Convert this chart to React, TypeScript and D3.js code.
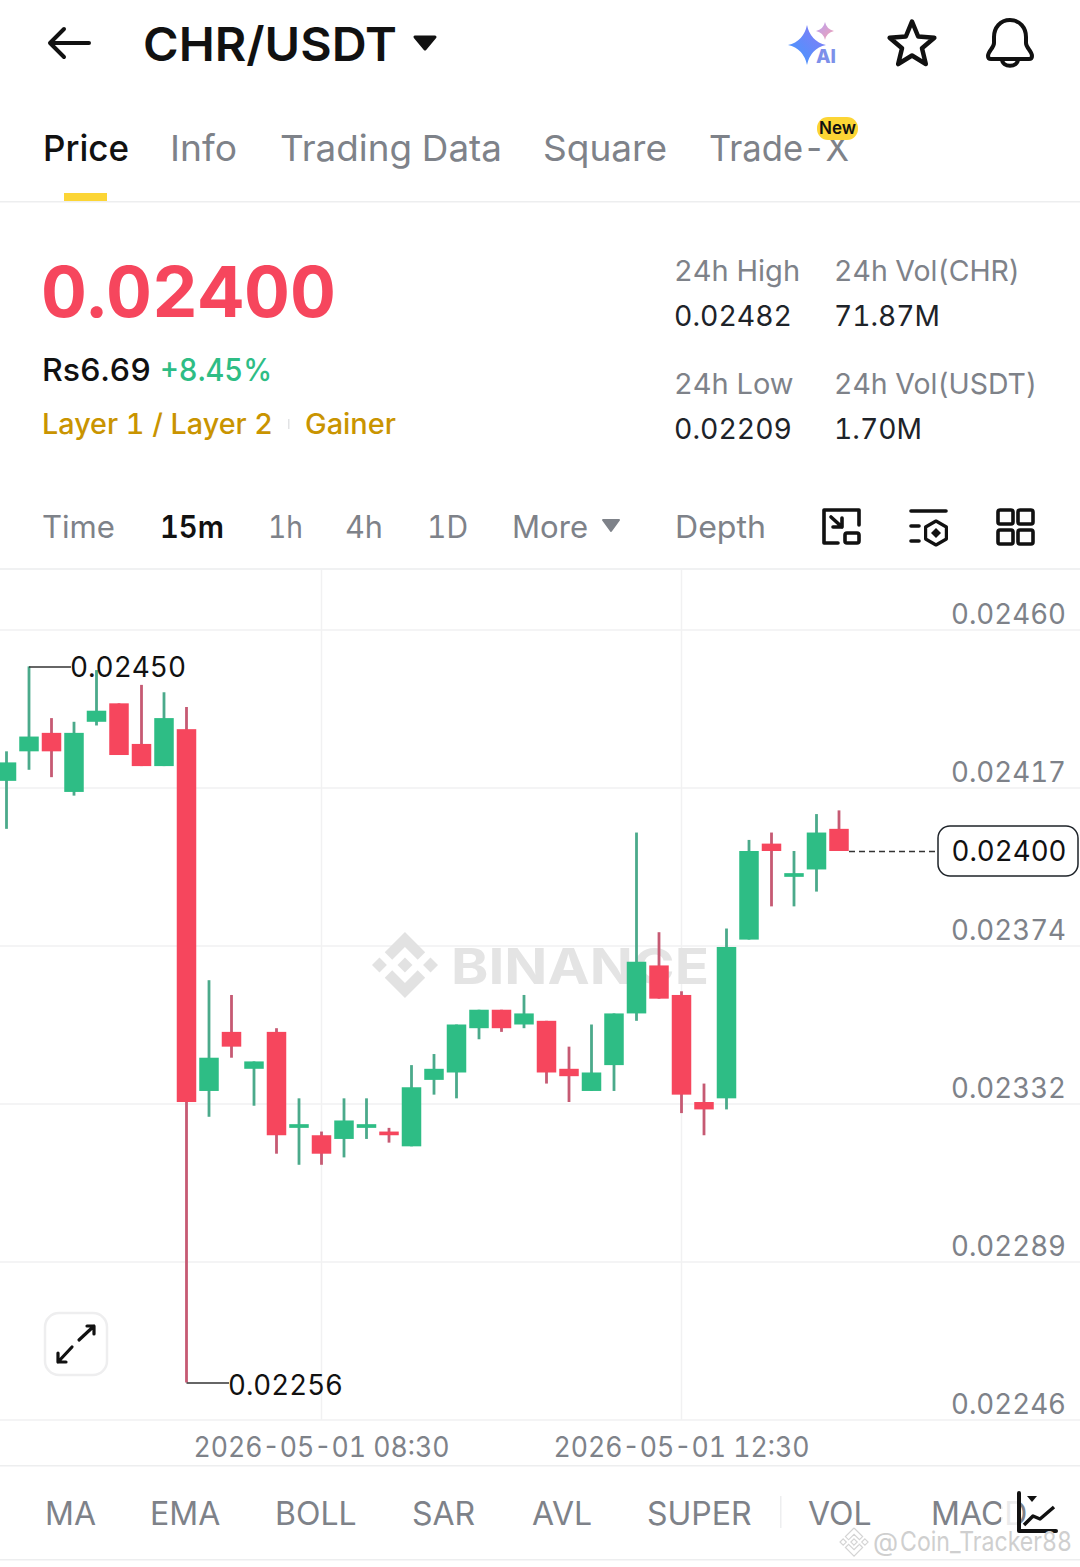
import React from 'react';
import * as d3 from 'd3';

const WIDTH = 1080;
const HEIGHT = 1567;
const FONT = 'Inter, "Noto Sans", sans-serif';

const UP = '#2EBD85';
const DOWN = '#F6465D';
const UP_WICK = '#4BAA8B';
const DOWN_WICK = '#C65A73';
const GRID = '#F1F1F2';
const GRAY = '#7E8289';
const DARK = '#1E2329';

const candleTimes = [
    '05:00', '05:15', '05:30', '05:45', '06:00', '06:15', '06:30', '06:45',
    '07:00', '07:15', '07:30', '07:45', '08:00', '08:15', '08:30', '08:45',
    '09:00', '09:15', '09:30', '09:45', '10:00', '10:15', '10:30', '10:45',
    '11:00', '11:15', '11:30', '11:45', '12:00', '12:15', '12:30', '12:45',
    '13:00', '13:15', '13:30', '13:45', '14:00', '14:15',
];
const opens = [
    0.02419, 0.02427, 0.02432, 0.02416, 0.02435, 0.0244, 0.02429, 0.02423,
    0.02433, 0.02335, 0.02351, 0.02341, 0.02351, 0.02325, 0.02323, 0.02322,
    0.02325, 0.02324, 0.0232, 0.02338, 0.0234, 0.02352, 0.02357, 0.02353,
    0.02354, 0.02341, 0.02335, 0.02342, 0.02356, 0.02369, 0.02361, 0.02332,
    0.02333, 0.02376, 0.02402, 0.02393, 0.02395, 0.02406,
];
const highs = [
    0.02427, 0.0245, 0.02436, 0.02435, 0.02449, 0.0244, 0.02445, 0.02443,
    0.02439, 0.02365, 0.02361, 0.02343, 0.02352, 0.02333, 0.02324, 0.02333,
    0.02333, 0.02325, 0.02342, 0.02345, 0.02353, 0.02357, 0.02357, 0.02361,
    0.02354, 0.02347, 0.02353, 0.02356, 0.02405, 0.02378, 0.02362, 0.02337,
    0.02379, 0.02403, 0.02405, 0.024, 0.0241, 0.02411,
];
const lows = [
    0.02406, 0.02422, 0.0242, 0.02415, 0.02434, 0.02426, 0.02423, 0.02423,
    0.02256, 0.02328, 0.02344, 0.02331, 0.02318, 0.02315, 0.02315, 0.02317,
    0.02322, 0.02321, 0.0232, 0.02334, 0.02333, 0.02349, 0.02351, 0.02352,
    0.02337, 0.02332, 0.02335, 0.02335, 0.02354, 0.0236, 0.02329, 0.02323,
    0.0233, 0.02376, 0.02385, 0.02385, 0.02389, 0.024,
];
const closes = [
    0.02424, 0.02431, 0.02427, 0.02432, 0.02438, 0.02426, 0.02423, 0.02436,
    0.02332, 0.02344, 0.02347, 0.02343, 0.02323, 0.02326, 0.02318, 0.02327,
    0.02326, 0.02323, 0.02336, 0.02341, 0.02353, 0.02357, 0.02352, 0.02356,
    0.0234, 0.02339, 0.0234, 0.02356, 0.0237, 0.0236, 0.02334, 0.0233,
    0.02374, 0.024, 0.024, 0.02394, 0.02405, 0.024,
];

// the axis is evenly spaced, the labels are these rounded to 5 places
const priceTicks = [0.0246, 0.024172, 0.023744, 0.023316, 0.022888, 0.02246];
const timeTicks = ['08:30', '12:30'];
const timeTickLabels = ['2026-05-01 08:30', '2026-05-01 12:30'];
const tabs = ['Price', 'Info', 'Trading Data', 'Square', 'Trade-X'];
const tabX = [43, 170, 280, 543, 709];
const tabLen = [86, 67, 222, 124, 140];
const intervals = ['Time', '15m', '1h', '4h', '1D', 'More', 'Depth'];
const intervalX = [42, 160, 268, 345, 427, 512, 675];
const intervalLen = [73, 64, 35, 38, 41, 76, 91];
const indicators = ['MA', 'EMA', 'BOLL', 'SAR', 'AVL', 'SUPER', 'VOL', 'MACD'];
const indicatorX = [45, 150, 275, 412, 532, 647, 808, 931];
const lastPrice = 0.024;

const BINANCE_LOGO = 'M16.624 13.9202l2.7175 2.7154-7.353 7.353-7.353-7.352 2.7175-2.7164 4.6355 4.6595 4.6356-4.6595zm4.6366-4.6366L24 12l-2.7154 2.7164L18.5682 12l2.6924-2.7164zm-9.272.001l2.7163 2.6914-2.7164 2.7174v-.001L9.2721 12l2.7164-2.7154zm-9.2722-.001L5.4088 12l-2.6914 2.6924L0 12l2.7164-2.7164zM11.9885.0115l7.353 7.329-2.7174 2.7154-4.6356-4.6356-4.6355 4.6595-2.7174-2.7154 7.353-7.353z';

const x = d3.scaleBand<string>()
    .domain(candleTimes)
    .range([-4.75, 850.25])
    .paddingInner(3 / 22.5)
    .paddingOuter(1.5 / 22.5);

const y = d3.scaleLinear().domain([0.0246, 0.02246]).range([630, 1420]);

const cx = (t: string) => (x(t) || 0) + x.bandwidth() / 2;

interface TxtProps {
    x: number;
    y: number;
    size: number;
    fill?: string;
    weight?: number;
    anchor?: string;
    length?: number;
    children: React.ReactNode;
}

const Txt: React.FC<TxtProps> = ({ x, y, size, fill = DARK, weight = 400, anchor = 'start', length, children }) => (
    <text
        x={x}
        y={y}
        fontSize={size}
        fill={fill}
        fontWeight={weight}
        textAnchor={anchor}
        fontFamily={FONT}
        textLength={length}
        lengthAdjust={length ? 'spacingAndGlyphs' : undefined}
        style={{ fontVariantNumeric: 'tabular-nums' }}
    >
        {children}
    </text>
);

const starPath = (cX: number, cY: number, outer: number, inner: number) => {
    const pts: [number, number][] = d3.range(10).map(i => {
        const r = i % 2 === 0 ? outer : inner;
        const a = (i * Math.PI) / 5;
        return [cX + r * Math.sin(a), cY - r * Math.cos(a)];
    });
    return `M${pts.map(p => p.join(',')).join('L')}Z`;
};

const sparkle = (cX: number, cY: number, rx: number, ry: number) =>
    `M${cX},${cY - ry}Q${cX + rx * 0.18},${cY - ry * 0.18} ${cX + rx},${cY}Q${cX + rx * 0.18},${cY + ry * 0.18} ${cX},${cY + ry}Q${cX - rx * 0.18},${cY + ry * 0.18} ${cX - rx},${cY}Q${cX - rx * 0.18},${cY - ry * 0.18} ${cX},${cY - ry}Z`;

const hexPath = (cX: number, cY: number, r: number) => {
    const pts = d3.range(6).map(i => {
        const a = (i * Math.PI) / 3;
        return `${cX + r * Math.sin(a)},${cY - r * Math.cos(a)}`;
    });
    return `M${pts.join('L')}Z`;
};

const Header = () => (
    <g>
        <path d="M89 43H51M64 29L50 43L64 57" fill="none" stroke="#111" strokeWidth={4} strokeLinecap="round" strokeLinejoin="round" />
        <Txt x={143} y={61} size={47} weight={600} fill="#111" length={254}>CHR/USDT</Txt>
        <path d="M415 37H435L425 49Z" fill="#111" stroke="#111" strokeWidth={3} strokeLinejoin="round" />
        <path d={sparkle(807, 45, 19, 20)} fill="url(#aiBlue)" />
        <path d={sparkle(825, 31, 9, 9)} fill="url(#aiPink)" />
        <Txt x={816} y={63} size={19} weight={800} fill="#7D90EA">AI</Txt>
        <path d={starPath(912, 45, 23.5, 10.5)} fill="none" stroke="#111" strokeWidth={4.5} strokeLinejoin="round" />
        <path d="M1010 20C1000 20 994 28 994 37V43C994 48 988 51 988 56C988 58 989 59 991 59H1029C1031 59 1032 58 1032 56C1032 51 1026 48 1026 43V37C1026 28 1020 20 1010 20Z" fill="none" stroke="#111" strokeWidth={4} strokeLinejoin="round" />
        <path d="M1002 59C1002 68 1018 68 1018 59" fill="none" stroke="#111" strokeWidth={4} />
        {tabs.map((t, i) => (
            <Txt key={t} x={tabX[i]} y={161} size={36} weight={i === 0 ? 500 : 400} fill={i === 0 ? '#111' : GRAY} length={tabLen[i]}>{t}</Txt>
        ))}
        <rect x={817} y={117} width={41} height={23} rx={11} fill="#FCD535" />
        <Txt x={837.5} y={134} size={17} weight={600} fill="#111" anchor="middle">New</Txt>
        <rect x={64} y={193} width={43} height={8} fill="#FCD535" />
        <rect x={0} y={201} width={WIDTH} height={1.5} fill="#EDEEEF" />
    </g>
);

const Stats = () => (
    <g>
        <Txt x={41} y={317} size={70} weight={700} fill={DOWN} length={295}>0.02400</Txt>
        <Txt x={42} y={381} size={31} weight={500} fill="#111" length={109}>Rs6.69</Txt>
        <Txt x={160} y={381} size={31} weight={500} fill={UP} length={112}>+8.45%</Txt>
        <Txt x={42} y={434} size={28} weight={500} fill="#C99400" length={231}>Layer 1 / Layer 2</Txt>
        <rect x={288} y={419} width={1.5} height={10} fill="#E2E3E5" />
        <Txt x={305} y={434} size={28} weight={500} fill="#C99400" length={91}>Gainer</Txt>
        <Txt x={674} y={281} size={29} fill={GRAY}>24h High</Txt>
        <Txt x={674} y={326} size={29} fill={DARK} length={118}>0.02482</Txt>
        <Txt x={834} y={281} size={29} fill={GRAY} length={186}>24h Vol(CHR)</Txt>
        <Txt x={834} y={326} size={29} fill={DARK} length={106}>71.87M</Txt>
        <Txt x={674} y={394} size={29} fill={GRAY}>24h Low</Txt>
        <Txt x={674} y={439} size={29} fill={DARK} length={118}>0.02209</Txt>
        <Txt x={834} y={394} size={29} fill={GRAY} length={203}>24h Vol(USDT)</Txt>
        <Txt x={834} y={439} size={29} fill={DARK} length={88}>1.70M</Txt>
    </g>
);

const Toolbar = () => (
    <g>
        {intervals.map((t, i) => (
            <Txt key={t} x={intervalX[i]} y={538} size={31} weight={t === '15m' ? 600 : 400} fill={t === '15m' ? '#111' : GRAY} length={intervalLen[i]}>{t}</Txt>
        ))}
        <path d="M603 520H619L611 531Z" fill={GRAY} stroke={GRAY} strokeWidth={2} strokeLinejoin="round" />
        <g fill="none" stroke="#111" strokeWidth={3.6} strokeLinecap="round" strokeLinejoin="round">
            <path d="M838 543H824V510H859V525" />
            <rect x={845} y={533} width={14} height={10} rx={2} />
            <path d="M831 517L842 527M842 518V527H833" />
            <path d="M911 511H946M911 526H919M911 541H919" />
            <path d={hexPath(936, 533, 12)} strokeWidth={3.2} />
            <rect x={998} y={510} width={15} height={14} rx={2} />
            <rect x={1018} y={510} width={15} height={14} rx={2} />
            <rect x={998} y={530} width={15} height={14} rx={2} />
            <rect x={1018} y={530} width={15} height={14} rx={2} />
        </g>
        <path d="M936 528L941 533L936 538L931 533Z" fill="#111" />
        <rect x={0} y={568} width={WIDTH} height={2} fill="#F0F1F2" />
    </g>
);

const Candles = () => (
    <g transform="translate(0,-0.5)">
        {candleTimes.map((t, i) => {
            const up = closes[i] >= opens[i];
            const top = y(Math.max(opens[i], closes[i]));
            const bottom = y(Math.min(opens[i], closes[i]));
            return (
                <g key={t}>
                    <line x1={cx(t)} x2={cx(t)} y1={y(highs[i])} y2={y(lows[i])} stroke={up ? UP_WICK : DOWN_WICK} strokeWidth={2.8} />
                    <rect x={x(t)} y={top} width={x.bandwidth()} height={bottom - top} fill={up ? UP : DOWN} />
                </g>
            );
        })}
    </g>
);

const Chart = () => {
    const highIdx = d3.maxIndex(highs.slice(0, 10));
    const lowIdx = d3.minIndex(lows);
    return (
        <g>
            {priceTicks.map(p => (
                <line key={p} x1={0} x2={WIDTH} y1={y(p)} y2={y(p)} stroke={GRID} strokeWidth={1.5} />
            ))}
            {timeTicks.map(t => (
                <line key={t} x1={cx(t)} x2={cx(t)} y1={570} y2={1420} stroke={GRID} strokeWidth={1.5} />
            ))}

            {/* watermark sits under the candles */}
            <path d={BINANCE_LOGO} transform="translate(372,932) scale(2.75)" fill="#E2E2E2" />
            <Txt x={451} y={984} size={49} weight={700} fill="#E4E4E4" length={258}>BINANCE</Txt>

            <Candles />

            {priceTicks.map(p => (
                <Txt key={p} x={1066} y={y(p) - 6} size={28} fill={GRAY} anchor="end" length={115}>{p.toFixed(5)}</Txt>
            ))}
            {timeTicks.map((t, i) => (
                <Txt key={t} x={cx(t)} y={1457} size={28} fill={GRAY} anchor="middle" length={256}>{timeTickLabels[i]}</Txt>
            ))}

            <line x1={cx(candleTimes[highIdx])} x2={71} y1={y(highs[highIdx])} y2={y(highs[highIdx])} stroke="#333" strokeWidth={1.5} />
            <Txt x={70} y={677} size={28} fill="#111" length={116}>{highs[highIdx].toFixed(5)}</Txt>
            <line x1={cx(candleTimes[lowIdx])} x2={229} y1={y(lows[lowIdx])} y2={y(lows[lowIdx])} stroke="#333" strokeWidth={1.5} />
            <Txt x={228} y={1395} size={28} fill="#111" length={115}>{lows[lowIdx].toFixed(5)}</Txt>

            <line x1={849} x2={935} y1={y(lastPrice)} y2={y(lastPrice)} stroke="#333" strokeWidth={1.5} strokeDasharray="6 4" />
            <rect x={938} y={826} width={140} height={50} rx={12} fill="#fff" stroke={DARK} strokeWidth={1.5} />
            <Txt x={1009} y={861} size={28} fill="#111" anchor="middle" length={115}>{lastPrice.toFixed(5)}</Txt>

            <rect x={45} y={1313} width={62} height={62} rx={14} fill="#fff" stroke="#EEEEEF" strokeWidth={2.5} />
            <path d="M79 1340L94 1326M87 1326H94V1334M72 1347L58 1362M58 1353V1362H66" fill="none" stroke="#111" strokeWidth={3.2} strokeLinecap="round" strokeLinejoin="round" />
        </g>
    );
};

const Footer = () => (
    <g>
        <rect x={0} y={1465} width={WIDTH} height={1.5} fill="#EDEEEF" />
        {indicators.map((t, i) => (
            <Txt key={t} x={indicatorX[i]} y={1525} size={32} fill={GRAY}>{t}</Txt>
        ))}
        <rect x={780} y={1496} width={1.5} height={32} fill="#EDEEEF" />
        <rect x={1001} y={1490} width={20} height={44} fill="url(#macdFade)" />
        <path d="M1019 1493V1531H1056" fill="none" stroke="#111" strokeWidth={4} strokeLinecap="round" strokeLinejoin="round" />
        <path d="M1024 1525L1033 1516L1040 1519L1054 1507" fill="none" stroke="#111" strokeWidth={3.5} strokeLinejoin="round" />
        <path d="M1027 1496H1037L1032 1502Z" fill="#111" />
        <path d={BINANCE_LOGO} transform="translate(840,1528) scale(1.17)" fill="#fff" stroke="#D4D4D4" strokeWidth={1} />
        <Txt x={873} y={1551} size={26} fill="#CFCFCF">@</Txt>
        <Txt x={900} y={1551} size={27} fill="#CFCFCF" length={172}>Coin_Tracker88</Txt>
        <rect x={0} y={1559} width={WIDTH} height={1.5} fill="#EDEEEF" />
    </g>
);

export default function App() {
    return (
        <svg
            width={WIDTH}
            height={HEIGHT}
            viewBox={`0 0 ${WIDTH} ${HEIGHT}`}
            style={{ position: 'absolute', left: 0, top: 0, display: 'block', background: '#fff' }}
        >
            <defs>
                <linearGradient id="aiBlue" x1="0" y1="1" x2="1" y2="0">
                    <stop offset="0%" stopColor="#3F9BFF" />
                    <stop offset="100%" stopColor="#8A78F5" />
                </linearGradient>
                <linearGradient id="aiPink" x1="0" y1="0" x2="1" y2="1">
                    <stop offset="0%" stopColor="#B9A0F2" />
                    <stop offset="100%" stopColor="#F2A2B2" />
                </linearGradient>
                <linearGradient id="macdFade" x1="0" y1="0" x2="1" y2="0">
                    <stop offset="0%" stopColor="#fff" stopOpacity={0.8} />
                    <stop offset="100%" stopColor="#fff" stopOpacity={0.9} />
                </linearGradient>
            </defs>
            <Header />
            <Stats />
            <Toolbar />
            <Chart />
            <Footer />
        </svg>
    );
}
